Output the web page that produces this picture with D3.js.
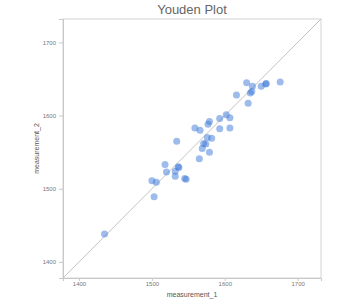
<!DOCTYPE html>
<meta charset="utf-8">
<style>
body { margin: 0; background: #fff; }
text { font-family: "Liberation Sans", Arial, sans-serif; fill: #666; }
.axis path, .axis line { stroke: #c8c8c8; }
.title { font-size: 13px; fill: #666; }
.label { font-size: 7px; fill: #555; }
</style>
<body>
<script src="https://cdn.jsdelivr.net/npm/d3@7"></script>
<script>

var measurement1 = [1435, 1500, 1506, 1503, 1518, 1520, 1532, 1532, 1536, 1537,
  1534, 1545, 1547, 1565, 1569, 1579, 1571, 1574, 1576, 1582,
  1559, 1566, 1579, 1577, 1593, 1602, 1607, 1593, 1607, 1632,
  1616, 1635, 1637, 1630, 1638, 1650, 1656, 1657, 1676];
var measurement2 = [1438, 1511, 1509, 1489, 1533, 1523, 1524, 1517, 1530, 1529,
  1565, 1514, 1513, 1541, 1555, 1550, 1562, 1561, 1570, 1569,
  1583, 1580, 1592, 1588, 1596, 1601, 1597, 1582, 1583, 1617,
  1628, 1631, 1633, 1645, 1640, 1640, 1643, 1644, 1646];
var ticks = [1400, 1500, 1600, 1700];

var width = 348,
    height = 300,
    margin = {top: 19, right: 27, bottom: 22, left: 63};

var svg = d3.select("body").append("svg")
    .attr("width", width)
    .attr("height", height);

var x = d3.scaleLinear()
    .domain([1378, 1732])
    .range([margin.left, width - margin.right]);

var y = d3.scaleLinear()
    .domain([1378, 1732])
    .range([height - margin.bottom, margin.top]);

svg.append("text")
    .attr("class", "title")
    .attr("x", (margin.left + width - margin.right) / 2)
    .attr("y", 14)
    .attr("text-anchor", "middle")
    .text("Youden Plot");

// panel border
svg.append("rect")
    .attr("x", margin.left)
    .attr("y", margin.top)
    .attr("width", width - margin.left - margin.right)
    .attr("height", height - margin.top - margin.bottom)
    .attr("fill", "none")
    .attr("stroke", "#d4d4d4");

svg.append("g")
    .attr("class", "axis")
    .attr("transform", "translate(0," + (height - margin.bottom) + ")")
    .call(d3.axisBottom(x).tickValues(ticks).tickFormat(d3.format("d")).tickSize(3).tickPadding(1));

svg.append("g")
    .attr("class", "axis")
    .attr("transform", "translate(" + margin.left + ",0)")
    .call(d3.axisLeft(y).tickValues(ticks).tickFormat(d3.format("d")).tickSize(4).tickPadding(3));

svg.selectAll(".axis text").style("font-size", "6px").style("fill", "#777");

// identity line
svg.append("line")
    .attr("x1", x(1378)).attr("y1", y(1378))
    .attr("x2", x(1732)).attr("y2", y(1732))
    .attr("stroke", "#c4c4c4")
    .attr("stroke-width", 1);

svg.append("g")
  .selectAll("circle")
    .data(measurement1)
  .enter().append("circle")
    .attr("cx", function(d) { return x(d); })
    .attr("cy", function(d, i) { return y(measurement2[i]); })
    .attr("r", 3.5)
    .attr("fill", "#3b78d8")
    .attr("fill-opacity", 0.5);

svg.append("text")
    .attr("class", "label")
    .attr("x", (margin.left + width - margin.right) / 2)
    .attr("y", 297)
    .attr("text-anchor", "middle")
    .text("measurement_1");

svg.append("text")
    .attr("class", "label")
    .attr("transform", "translate(39," + ((margin.top + height - margin.bottom) / 2) + ")rotate(-90)")
    .attr("text-anchor", "middle")
    .text("measurement_2");

</script>
